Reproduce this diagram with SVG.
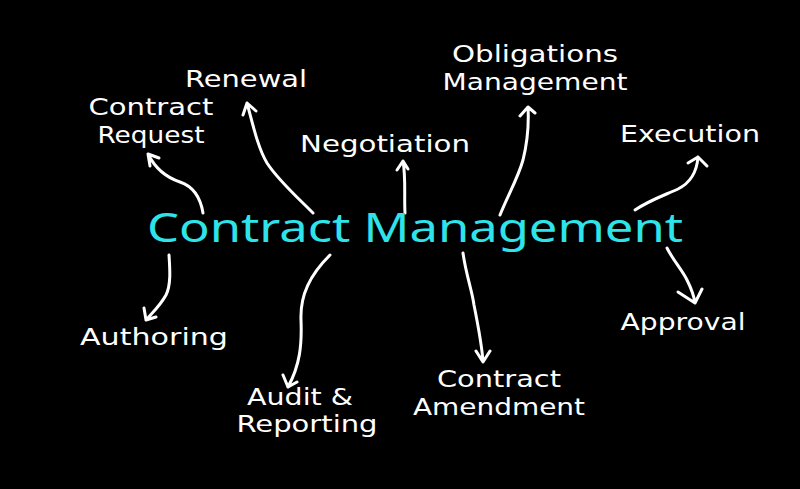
<svg xmlns="http://www.w3.org/2000/svg" width="800" height="489" viewBox="0 0 800 489">
<style>
.lbl{font-family:"DejaVu Sans","Liberation Sans",sans-serif;font-size:23px;fill:#ffffff;text-anchor:middle;}
.title{font-family:"Noto Sans","DejaVu Sans",sans-serif;font-size:40px;fill:#2fe3ea;text-anchor:middle;}
.arr{fill:none;stroke:#ffffff;stroke-width:3;stroke-linecap:round;stroke-linejoin:round;}
</style>
<rect width="800" height="489" fill="#000000"/>
<g id="connectors">
  <path class="arr" d="M203,213 C200,195 192,186 180,182 C165,177 155,168 148,154 M148,154 L150,166 M148,154 L159,158"/>
  <path class="arr" d="M313,213 C295,195 278,180 267,163 C258,148 253,125 247,103 M247,103 L243,115 M247,103 L256,111"/>
  <path class="arr" d="M405,213 C404,195 406,178 403,161 M403,161 L397,170 M403,161 L408,169"/>
  <path class="arr" d="M500,215 C508,195 518,178 523,160 C528,140 529,125 528,107 M528,107 L520,116 M528,107 L535,113"/>
  <path class="arr" d="M635,210 C650,200 665,195 678,189 C692,182 697,170 698,157 M698,157 L688,163 M698,157 L707,166"/>
  <path class="arr" d="M169,255 C170,270 171,285 166,295 C160,306 152,313 146,320 M146,320 L144,308 M146,320 L156,317"/>
  <path class="arr" d="M330,255 C310,275 300,295 301,320 C302,345 300,365 288,387 M288,387 L283,375 M288,387 L297,382"/>
  <path class="arr" d="M463,253 C466,275 472,290 474,305 C478,325 482,345 483,362 M483,362 L476,351 M483,362 L490,351"/>
  <path class="arr" d="M667,248 C673,260 682,270 687,280 C691,288 694,296 695,303 M695,303 L678,292 M695,303 L702,289"/>
</g>
<g id="contract-management"><text class="title" x="415" y="242" textLength="536" lengthAdjust="spacingAndGlyphs">Contract Management</text></g>
<g id="renewal"><text class="lbl" x="246" y="87" textLength="122" lengthAdjust="spacingAndGlyphs">Renewal</text></g>
<g id="contract-request"><text class="lbl" x="151" y="115" textLength="125" lengthAdjust="spacingAndGlyphs">Contract</text><text class="lbl" x="151" y="143" textLength="107" lengthAdjust="spacingAndGlyphs">Request</text></g>
<g id="negotiation"><text class="lbl" x="385" y="152" textLength="170" lengthAdjust="spacingAndGlyphs">Negotiation</text></g>
<g id="obligations-management"><text class="lbl" x="535" y="62" textLength="166" lengthAdjust="spacingAndGlyphs">Obligations</text><text class="lbl" x="535" y="90" textLength="185" lengthAdjust="spacingAndGlyphs">Management</text></g>
<g id="execution"><text class="lbl" x="690" y="142" textLength="140" lengthAdjust="spacingAndGlyphs">Execution</text></g>
<g id="authoring"><text class="lbl" x="154" y="345" textLength="148" lengthAdjust="spacingAndGlyphs">Authoring</text></g>
<g id="audit-reporting"><text class="lbl" x="300" y="405" textLength="106" lengthAdjust="spacingAndGlyphs">Audit &amp;</text><text class="lbl" x="307" y="432" textLength="141" lengthAdjust="spacingAndGlyphs">Reporting</text></g>
<g id="contract-amendment"><text class="lbl" x="499" y="387" textLength="124" lengthAdjust="spacingAndGlyphs">Contract</text><text class="lbl" x="499" y="415" textLength="172" lengthAdjust="spacingAndGlyphs">Amendment</text></g>
<g id="approval"><text class="lbl" x="683" y="330" textLength="125" lengthAdjust="spacingAndGlyphs">Approval</text></g>
</svg>
